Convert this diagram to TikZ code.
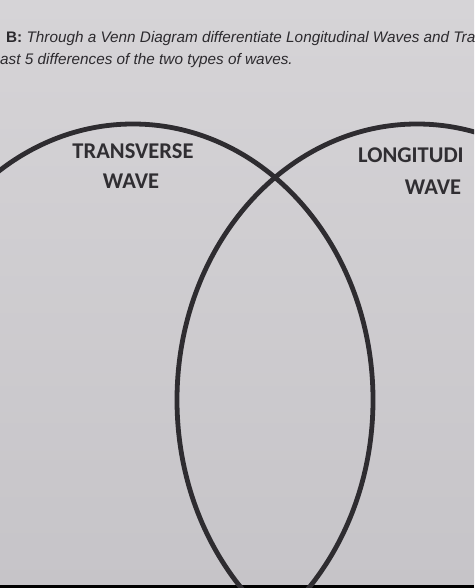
\documentclass[tikz,border=0pt]{standalone}
\usepackage{fontspec}
\setmainfont{Liberation Sans}
\newfontfamily\labelfont{Carlito}
\usetikzlibrary{shapes.geometric}
\definecolor{inkgray}{HTML}{2E2C30}
\definecolor{headgray}{HTML}{2C2A2E}
\definecolor{labgray}{HTML}{302E32}
\definecolor{papertop}{HTML}{D6D4D7}
\definecolor{paperbot}{HTML}{C6C4C8}
\begin{document}
\begin{tikzpicture}[x=1pt,y=-1pt,
  venn/.style={draw=inkgray, line width=4.8pt, ellipse, minimum width=480pt, minimum height=552pt, inner sep=0pt},
  heading/.style={text=headgray, font=\fontsize{15.3}{18}\selectfont\itshape, anchor=base west, inner sep=0pt},
  setlabel/.style={text=labgray, font=\labelfont\bfseries\fontsize{22.5}{25}\selectfont, anchor=base, inner sep=0pt}]
\useasboundingbox (0,0) rectangle (474,588);
\clip (0,0) rectangle (474,588);
\shade[top color=papertop, bottom color=paperbot] (0,0) rectangle (474,588);
\fill[black] (0,585) rectangle (474,588);
\node[heading] (h1) at (6,43) {{\upshape\bfseries B:} Through a Venn Diagram differentiate Longitudinal Waves and Tra};
\node[heading] (h2) at (0,65) {ast 5 differences of the two types of waves.};
\node[venn] (left) at (133,400) {};
\node[venn] (right) at (417,400) {};
\node[setlabel] (t1) at (133,159) {TRANSVERSE};
\node[setlabel] (t2) at (131,188) {WAVE};
\node[setlabel, anchor=base west] (l1) at (358,163) {LONGITUDI};
\node[setlabel] (l2) at (433,194) {WAVE};
\end{tikzpicture}
\end{document}
